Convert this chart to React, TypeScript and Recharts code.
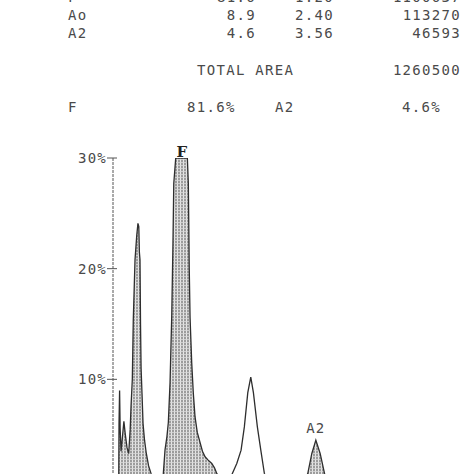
import React from 'react';
import {
  ComposedChart,
  Area,
  Line,
  XAxis,
  YAxis,
  ReferenceDot,
} from 'recharts';

// Retention time (min) and detector signal (% of full scale)
const times = [
  0.06, 0.1, 0.105, 0.115, 0.125, 0.14, 0.165, 0.19, 0.215, 0.245, 0.274, 0.3, 0.314,
  0.337, 0.354, 0.384, 0.414, 0.435, 0.45, 0.46, 0.471, 0.48, 0.49, 0.506, 0.524, 0.55,
  0.581, 0.62, 0.663, 0.733, 0.785, 0.838, 0.878, 0.907, 0.94, 0.965, 0.995, 1.024,
  1.045, 1.06, 1.094, 1.297, 1.314, 1.33, 1.344, 1.373, 1.4, 1.431, 1.47, 1.518, 1.56,
  1.606, 1.66, 1.723, 1.77, 1.81, 1.885, 1.972, 2.033, 2.082, 2.159, 2.234, 2.291,
  2.351, 2.403, 2.449, 2.518, 2.578, 2.64, 2.705, 2.914, 3.263, 3.333, 3.398, 3.468,
  3.538, 3.613, 3.689, 3.752, 3.96, 4.66,
];
const signal = [
  0.3, 1.0, 6.0, 9.0, 5.5, 3.5, 4.8, 6.2, 5.0, 3.8, 3.3, 5.5, 7.5,
  10.0, 15.4, 20.8, 23.0, 24.1, 23.8, 21.5, 20.8, 15.0, 11.0, 8.7, 6.0, 4.5,
  3.3, 2.2, 1.5, 0.6, 0.4, 0.8, 1.5, 3.6, 4.8, 6.1, 9.7, 15.6,
  22.0, 27.7, 30, 30, 27.7, 20.0, 15.6, 11.5, 8.8, 6.6, 5.2, 4.3, 3.5,
  3.0, 2.7, 2.4, 2.0, 1.5, 0.7, 0.5, 0.8, 1.5, 2.4, 3.6, 5.7,
  8.8, 10.2, 8.8, 5.7, 3.6, 1.5, 0.7, 0.4, 0.4, 0.8, 1.5, 3.3,
  4.5, 3.3, 1.5, 0.7, 0.4, 0.3,
];
// Integrated (shaded) peak windows
const shadedRanges: [number, number][] = [
  [0.1, 0.7],
  [0.838, 1.972],
  [3.333, 3.752],
];
const yTicks = [10, 20, 30];
const peakLabels = [
  { name: 'F', t: 1.2, v: 30 },
  { name: 'A2', t: 3.538, v: 4.5 },
];

// Report table
const reportRows = [
  { name: 'F', pct: '81.6', time: '1.20', area: '1100637' },
  { name: 'Ao', pct: '8.9', time: '2.40', area: '113270' },
  { name: 'A2', pct: '4.6', time: '3.56', area: '46593' },
];
const totalArea = '1260500';
const summary = { fLabel: 'F', fPct: '81.6%', a2Label: 'A2', a2Pct: '4.6%' };

const data = times.map((t, i) => {
  const inShade = shadedRanges.some(([a, b]) => t >= a && t <= b);
  return { t, v: signal[i], s: inShade ? signal[i] : null };
});

const MONO = '"DejaVu Sans Mono", "Liberation Mono", monospace';
const TEXT = '#4a4a4a';

const YTick = (props: any) => {
  const { x, y, payload } = props;
  return (
    <g>
      <line x1={x - 6} x2={x + 4} y1={y} y2={y} stroke="#555" strokeWidth={1} />
      <text
        x={x - 6}
        y={y + 5}
        textAnchor="end"
        fontFamily={MONO}
        fontSize={14}
        letterSpacing={1.2}
        fill={TEXT}
      >
        {payload.value}%
      </text>
    </g>
  );
};

const tStyle = {
  fontFamily: MONO,
  fontSize: 14,
  letterSpacing: 1.3,
  fill: TEXT,
} as const;

export default function App() {
  const rowBase = [2, 20, 38];
  return (
    <div
      style={{
        position: 'absolute',
        left: 0,
        top: 0,
        width: 474,
        height: 474,
        overflow: 'hidden',
        background: '#fff',
      }}
    >
      <svg width={474} height={474} style={{ position: 'absolute', left: 0, top: 0 }}>
        {reportRows.map((r, i) => (
          <g key={r.name}>
            <text x={68} y={rowBase[i]} {...tStyle}>{r.name}</text>
            <text x={256} y={rowBase[i]} textAnchor="end" {...tStyle}>{r.pct}</text>
            <text x={334} y={rowBase[i]} textAnchor="end" {...tStyle}>{r.time}</text>
            <text x={461} y={rowBase[i]} textAnchor="end" {...tStyle}>{r.area}</text>
          </g>
        ))}
        <text x={197} y={75} {...tStyle}>TOTAL AREA</text>
        <text x={461} y={75} textAnchor="end" {...tStyle}>{totalArea}</text>
        <text x={68} y={112} {...tStyle}>{summary.fLabel}</text>
        <text x={187} y={112} {...tStyle}>{summary.fPct}</text>
        <text x={275} y={112} {...tStyle}>{summary.a2Label}</text>
        <text x={402} y={112} {...tStyle}>{summary.a2Pct}</text>
      </svg>
      <div style={{ position: 'absolute', left: 0, top: 0 }}>
        <ComposedChart
          width={474}
          height={500}
          data={data}
          margin={{ top: 158, right: 17, bottom: 10, left: 53 }}
        >
          <defs>
            <pattern id="hatch" width="3" height="3" patternUnits="userSpaceOnUse">
              <rect width="3" height="3" fill="#9c9c9c" />
              <line x1="0.5" y1="0" x2="0.5" y2="3" stroke="#e6e6e6" strokeWidth="1" />
              <line x1="0" y1="0.5" x2="3" y2="0.5" stroke="#d8d8d8" strokeWidth="0.8" />
            </pattern>
          </defs>
          <XAxis dataKey="t" type="number" domain={[0, 6]} hide />
          <YAxis
            type="number"
            domain={[0, 30]}
            ticks={yTicks}
            width={60}
            allowDataOverflow
            tickSize={0}
            tickMargin={0}
            tickLine={false}
            axisLine={{ stroke: '#555', strokeDasharray: '3 1', strokeWidth: 1 }}
            tick={<YTick />}
            interval={0}
          />
          <Area
            dataKey="s"
            type="linear"
            stroke="none"
            fill="url(#hatch)"
            fillOpacity={1}
            isAnimationActive={false}
            connectNulls={false}
            baseValue={0}
          />
          <Line
            dataKey="v"
            type="linear"
            stroke="#2e2e2e"
            strokeWidth={1.3}
            dot={false}
            isAnimationActive={false}
          />
          {peakLabels.map((p) => (
            <ReferenceDot
              key={p.name}
              x={p.t}
              y={p.v}
              r={1}
              fill="none"
              stroke="none"
              label={{
                value: p.name,
                position: 'top',
                offset: p.name === 'F' ? 0 : 6,
                fill: p.name === 'F' ? '#222' : TEXT,
                fontFamily: p.name === 'F' ? '"DejaVu Serif", serif' : MONO,
                fontSize: p.name === 'F' ? 15 : 14,
                fontWeight: p.name === 'F' ? 'bold' : 'normal',
                letterSpacing: p.name === 'F' ? 0 : 1.2,
              }}
            />
          ))}
        </ComposedChart>
      </div>
    </div>
  );
}
